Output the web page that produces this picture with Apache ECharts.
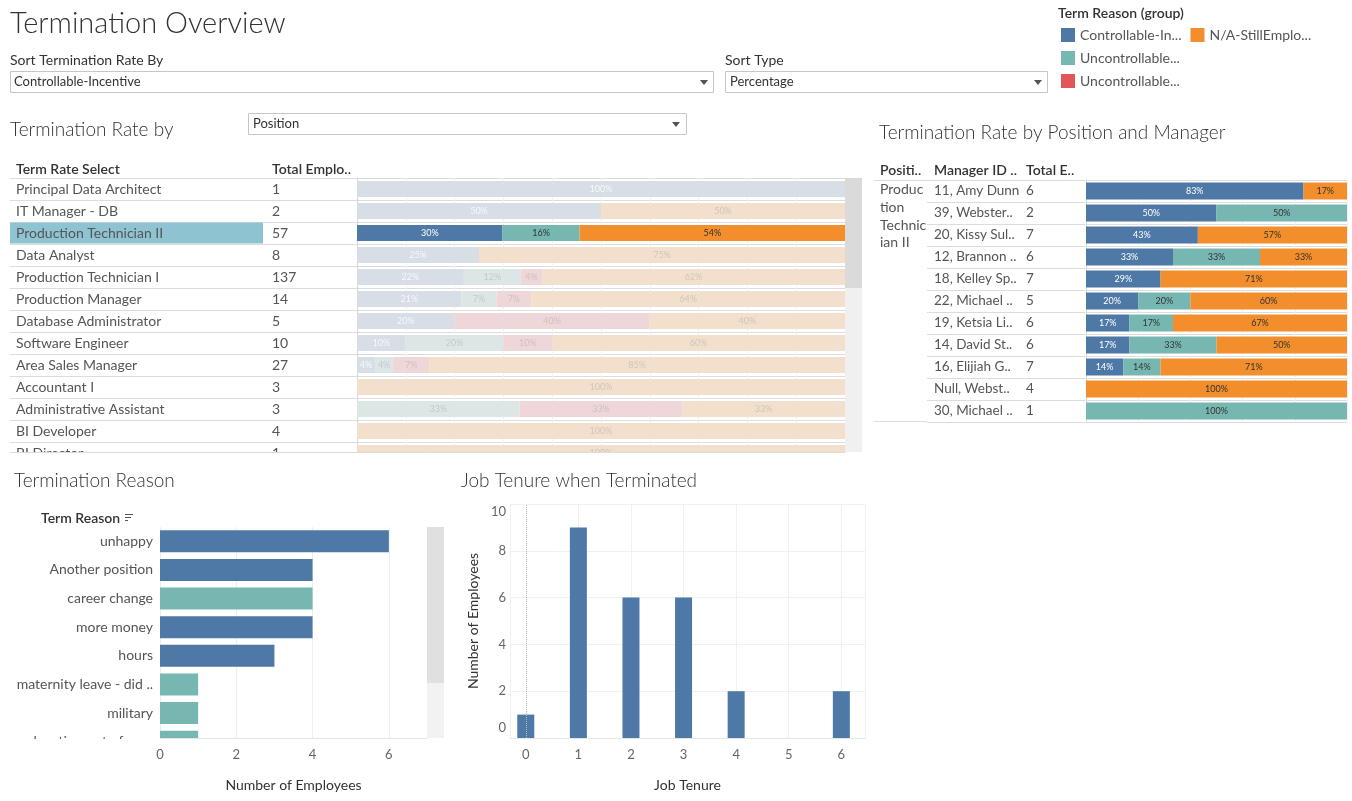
<!DOCTYPE html>
<html>
<head>
<meta charset="utf-8">
<title>Termination Overview</title>
<script src="https://cdn.jsdelivr.net/npm/echarts@6/dist/echarts.min.js"></script>
<style>
  html, body { margin: 0; padding: 0; background: #fff; }
  #main { width: 1352px; height: 801px; }
</style>
</head>
<body>
<div id="main"></div>
<script>
// term reason groups, in legend order (blue, teal, red, orange)
var groupNames = ['Controllable-Incentive', 'Uncontrollable-Personal', 'Uncontrollable-Other', 'N/A-StillEmployed'];
var groupShort = ['Controllable-In...', 'Uncontrollable...', 'Uncontrollable...', 'N/A-StillEmplo...'];
var groupColors = ['#4E79A7', '#76B7B2', '#E15759', '#F28E2B'];
var groupFaded = ['#d7dee6', '#dce7e5', '#efd6d8', '#f2dfcc'];

// employees by position, split by term reason group
var positions = ['Principal Data Architect', 'IT Manager - DB', 'Production Technician II', 'Data Analyst',
  'Production Technician I', 'Production Manager', 'Database Administrator', 'Software Engineer',
  'Area Sales Manager', 'Accountant I', 'Administrative Assistant', 'BI Developer', 'BI Director'];
var positionTotals = [1, 2, 57, 8, 137, 14, 5, 10, 27, 3, 3, 4, 1];
var posControllable = [1, 1, 17, 2, 30, 3, 1, 1, 1, 0, 0, 0, 0];
var posUncontrolA = [0, 0, 9, 0, 16, 1, 0, 2, 1, 0, 1, 0, 0];
var posUncontrolB = [0, 0, 0, 0, 6, 1, 2, 1, 2, 0, 1, 0, 0];
var posStillEmployed = [0, 1, 31, 6, 85, 9, 2, 6, 23, 3, 1, 4, 1];
var selectedPosition = 2;

// employees by manager for Production Technician II
var managers = ['11, Amy Dunn', '39, Webster..', '20, Kissy Sul..', '12, Brannon ..', '18, Kelley Sp..',
  '22, Michael ..', '19, Ketsia Li..', '14, David St..', '16, Elijiah G..', 'Null, Webst..', '30, Michael ..'];
var managerTotals = [6, 2, 7, 6, 7, 5, 6, 6, 7, 4, 1];
var mgrControllable = [5, 1, 3, 2, 2, 1, 1, 1, 1, 0, 0];
var mgrUncontrolA = [0, 1, 0, 2, 0, 1, 1, 2, 1, 0, 1];
var mgrUncontrolB = [0, 0, 0, 0, 0, 0, 0, 0, 0, 0, 0];
var mgrStillEmployed = [1, 0, 4, 2, 5, 3, 4, 3, 5, 4, 0];

// termination reason counts
var reasons = ['unhappy', 'Another position', 'career change', 'more money', 'hours',
  'maternity leave - did ..', 'military', 'relocation out of area'];
var reasonCounts = [6, 4, 4, 4, 3, 1, 1, 1];
var reasonGroup = [0, 0, 1, 0, 0, 1, 1, 1];

// job tenure when terminated
var tenureYears = [0, 1, 2, 3, 4, 5, 6];
var tenureCounts = [1, 9, 6, 6, 2, 0, 2];

var FONT = 'Lato, "Noto Sans", sans-serif';
var chart = echarts.init(document.getElementById('main'));

// stacked percentage bars for one reason group
function stackSeries(gi, counts, totals, xi, yi, stack, selIdx, barWidth) {
  var light = gi === 0; // white labels on the blue segments
  return {
    name: groupNames[gi], type: 'bar', stack: stack,
    xAxisIndex: xi, yAxisIndex: yi, barWidth: barWidth,
    itemStyle: { color: groupColors[gi] },
    emphasis: { disabled: true },
    label: {
      show: true, position: 'inside', fontSize: 9, fontFamily: FONT,
      formatter: function (p) { return p.value > 0 ? Math.round(p.value) + '%' : ''; }
    },
    data: counts.map(function (c, i) {
      var faded = selIdx !== null && i !== selIdx;
      return {
        value: c / totals[i] * 100,
        itemStyle: { color: faded ? groupFaded[gi] : groupColors[gi] },
        label: { color: faded ? (light ? 'rgba(255,255,255,0.8)' : 'rgba(150,150,150,0.35)') : (light ? '#fff' : '#333') }
      };
    })
  };
}

function txt(x, y, s, font, color, align) {
  return { type: 'text', x: x, y: y, silent: true, z: 60,
    style: { text: s, font: font, fill: color || '#333', align: align || 'left', verticalAlign: 'middle' } };
}
function box(x, y, w, h, fill, stroke) {
  return { type: 'rect', silent: true, z: 55, shape: { x: x, y: y, width: w, height: h },
    style: { fill: fill, stroke: stroke || null, lineWidth: 1 } };
}
function hline(x1, x2, y, color) {
  return { type: 'line', silent: true, z: 56, shape: { x1: x1, y1: y, x2: x2, y2: y },
    style: { stroke: color || '#ddd', lineWidth: 1 } };
}
function arrow(x, y) {
  return { type: 'polygon', silent: true, z: 60, shape: { points: [[x - 4, y - 2], [x + 4, y - 2], [x, y + 3]] },
    style: { fill: '#555' } };
}

var hidden = { show: false };

var option = {
  animation: false,
  textStyle: { fontFamily: FONT },
  legend: {
    orient: 'vertical', left: 1061, top: 28, height: 66, padding: 0, itemGap: 9,
    itemWidth: 14, itemHeight: 14, icon: 'rect', selectedMode: false,
    data: groupNames,
    formatter: function (n) { return groupShort[groupNames.indexOf(n)]; },
    textStyle: { fontSize: 14, color: '#555', fontFamily: FONT }
  },
  grid: [
    { left: 10, top: 178, width: 347, height: 286 },   // position table text
    { left: 357, top: 178, width: 488, height: 286 },  // position bars
    { left: 927, top: 180, width: 158, height: 242 },  // manager table text
    { left: 1086, top: 180, width: 261, height: 242 }, // manager bars
    { left: 160, top: 527, width: 267, height: 229 },  // reason bars
    { left: 160, top: 527, width: 267, height: 211 },  // reason axis
    { left: 510, top: 504, width: 355, height: 234 }   // job tenure
  ],
  xAxis: [
    { gridIndex: 0, type: 'value', min: 0, max: 1, show: false },
    { gridIndex: 1, type: 'value', min: 0, max: 100, interval: 10,
      axisLabel: hidden, axisLine: hidden, axisTick: hidden,
      splitLine: { lineStyle: { color: '#f1f1f1' } } },
    { gridIndex: 2, type: 'value', min: 0, max: 1, show: false },
    { gridIndex: 3, type: 'value', min: 0, max: 100, interval: 20,
      axisLabel: hidden, axisLine: hidden, axisTick: hidden,
      splitLine: { lineStyle: { color: '#f1f1f1' } } },
    { gridIndex: 4, type: 'value', min: 0, max: 7, interval: 2,
      axisLabel: hidden, axisLine: hidden, axisTick: hidden,
      splitLine: { lineStyle: { color: '#eeeeee' } } },
    { gridIndex: 5, type: 'value', min: 0, max: 7, interval: 2, z: 70,
      axisLine: { lineStyle: { color: '#e6e6e6' } }, axisTick: hidden, splitLine: hidden,
      axisLabel: { showMaxLabel: false, color: '#666', fontSize: 13, margin: 10 },
      name: 'Number of Employees', nameLocation: 'middle', nameGap: 40,
      nameTextStyle: { color: '#333', fontSize: 14 } },
    { gridIndex: 6, type: 'value', min: -0.3, max: 6.45, splitNumber: 7,
      axisLine: { lineStyle: { color: '#e6e6e6' } }, axisTick: hidden,
      axisLabel: { showMinLabel: false, showMaxLabel: false, color: '#666', fontSize: 13, margin: 10 },
      splitLine: { lineStyle: { color: '#f0f0f0' } },
      name: 'Job Tenure', nameLocation: 'middle', nameGap: 40,
      nameTextStyle: { color: '#333', fontSize: 14 } }
  ],
  yAxis: [
    { gridIndex: 0, type: 'category', inverse: true, data: positions,
      axisLine: hidden, axisTick: hidden,
      splitLine: { show: true, lineStyle: { color: '#dcdcdc' } },
      axisLabel: {
        inside: true, margin: 0, interval: 0,
        formatter: function (v, i) {
          return '{' + (i === selectedPosition ? 'hl' : 'n') + '|' + v + '}{c|' + positionTotals[i] + '}';
        },
        rich: {
          n: { width: 247, height: 21, lineHeight: 21, padding: [0, 0, 0, 6], color: '#555', fontSize: 14 },
          hl: { width: 247, height: 21, lineHeight: 21, padding: [0, 0, 0, 6], color: '#555', fontSize: 14, backgroundColor: '#8EC3D2' },
          c: { padding: [0, 0, 0, 9], color: '#555', fontSize: 14 }
        }
      } },
    { gridIndex: 1, type: 'category', inverse: true, data: positions,
      axisLabel: hidden, axisTick: hidden,
      axisLine: { lineStyle: { color: '#d6d6d6' } },
      splitLine: { show: true, lineStyle: { color: '#dcdcdc' } } },
    { gridIndex: 2, type: 'category', inverse: true, data: managers,
      axisLine: hidden, axisTick: hidden,
      splitLine: { show: true, lineStyle: { color: '#dcdcdc' } },
      axisLabel: {
        inside: true, margin: 0, interval: 0,
        formatter: function (v, i) { return '{n|' + v + '}{c|' + managerTotals[i] + '}'; },
        rich: {
          n: { width: 85, padding: [0, 0, 0, 7], color: '#555', fontSize: 13.5 },
          c: { padding: [0, 0, 0, 7], color: '#555', fontSize: 13.5 }
        }
      } },
    { gridIndex: 3, type: 'category', inverse: true, data: managers,
      axisLabel: hidden, axisTick: hidden,
      axisLine: { lineStyle: { color: '#d6d6d6' } },
      splitLine: { show: true, lineStyle: { color: '#dcdcdc' } } },
    { gridIndex: 4, type: 'category', inverse: true, data: reasons,
      axisLine: hidden, axisTick: hidden,
      axisLabel: { interval: 0, margin: 7, color: '#555', fontSize: 14 } },
    { gridIndex: 5, type: 'value', show: false },
    { gridIndex: 6, type: 'value', min: 0, max: 10, interval: 2,
      axisLine: hidden, axisTick: hidden,
      splitLine: { lineStyle: { color: '#f0f0f0' } },
      axisLabel: {
        color: '#666', fontSize: 13, margin: 4,
        formatter: function (v) {
          if (v === 0) return '{lo|0}';
          if (v === 10) return '{hi|10}';
          return v;
        },
        rich: {
          lo: { padding: [0, 0, 20, 0], color: '#666', fontSize: 13 },
          hi: { padding: [16, 0, 0, 0], color: '#666', fontSize: 13 }
        }
      },
      name: 'Number of Employees', nameLocation: 'middle', nameGap: 30, nameRotate: 90,
      nameTextStyle: { color: '#333', fontSize: 14 } }
  ],
  series: [
    stackSeries(0, posControllable, positionTotals, 1, 1, 'pos', selectedPosition, 16),
    stackSeries(1, posUncontrolA, positionTotals, 1, 1, 'pos', selectedPosition, 16),
    stackSeries(2, posUncontrolB, positionTotals, 1, 1, 'pos', selectedPosition, 16),
    stackSeries(3, posStillEmployed, positionTotals, 1, 1, 'pos', selectedPosition, 16),
    stackSeries(0, mgrControllable, managerTotals, 3, 3, 'mgr', null, 17),
    stackSeries(1, mgrUncontrolA, managerTotals, 3, 3, 'mgr', null, 17),
    stackSeries(2, mgrUncontrolB, managerTotals, 3, 3, 'mgr', null, 17),
    stackSeries(3, mgrStillEmployed, managerTotals, 3, 3, 'mgr', null, 17),
    {
      type: 'bar', xAxisIndex: 4, yAxisIndex: 4, barWidth: 22,
      emphasis: { disabled: true },
      data: reasonCounts.map(function (v, i) {
        return { value: v, itemStyle: { color: groupColors[reasonGroup[i]] } };
      })
    },
    {
      type: 'bar', xAxisIndex: 6, yAxisIndex: 6, barWidth: 17,
      itemStyle: { color: '#4E79A7' },
      emphasis: { disabled: true },
      data: tenureYears.map(function (t, i) { return [t, tenureCounts[i]]; }),
      markLine: {
        silent: true, symbol: ['none', 'none'], label: hidden,
        lineStyle: { type: 'dotted', color: '#bbbbbb', width: 1 },
        data: [{ xAxis: 0 }]
      }
    }
  ],
  graphic: [
    txt(10, 24, 'Termination Overview', '300 29px ' + FONT, '#333'),
    txt(10, 60, 'Sort Termination Rate By', '14px ' + FONT, '#333'),
    box(10.5, 71.5, 703, 21, '#fff', '#c6c6c6'),
    txt(14, 82, 'Controllable-Incentive', '13px ' + FONT, '#333'),
    arrow(704, 82),
    txt(725, 60, 'Sort Type', '14px ' + FONT, '#333'),
    box(725.5, 71.5, 322, 21, '#fff', '#c6c6c6'),
    txt(730, 82, 'Percentage', '13px ' + FONT, '#333'),
    arrow(1038, 82),
    txt(1058, 13, 'Term Reason (group)', '600 14px ' + FONT, '#333'),

    txt(10, 130, 'Termination Rate by', '300 19px ' + FONT, '#333'),
    box(248.5, 113.5, 438, 21, '#fff', '#c6c6c6'),
    txt(253, 124, 'Position', '13px ' + FONT, '#333'),
    arrow(676, 124),
    txt(16, 169, 'Term Rate Select', '600 14px ' + FONT, '#333'),
    txt(272, 169, 'Total Emplo..', '600 14px ' + FONT, '#333'),
    box(0, 453, 870, 16, '#fff'),
    hline(10, 845, 452.5, '#dcdcdc'),
    box(845, 178, 17, 110, '#dadada'),
    box(845, 288, 17, 164, '#f0f0f0'),

    txt(879, 133, 'Termination Rate by Position and Manager', '300 19px ' + FONT, '#333'),
    txt(880, 170, 'Positi..', '600 14px ' + FONT, '#333'),
    txt(934, 170, 'Manager ID ..', '600 14px ' + FONT, '#333'),
    txt(1026, 170, 'Total E..', '600 14px ' + FONT, '#333'),
    hline(874, 927, 180.5, '#dcdcdc'),
    hline(874, 927, 421.5, '#dcdcdc'),
    { type: 'text', x: 880, y: 181, silent: true, z: 60,
      style: { text: 'Produc\ntion\nTechnic\nian II', font: '14px ' + FONT, fill: '#555', lineHeight: 17.7 } },

    txt(14, 481, 'Termination Reason', '300 19px ' + FONT, '#333'),
    txt(41, 518, 'Term Reason', '600 14px ' + FONT, '#333'),
    hline(125, 133, 514.5, '#555'),
    hline(125, 131, 517.5, '#555'),
    hline(125, 128, 520.5, '#555'),
    box(0, 739, 446, 19, '#fff'),
    box(427, 527, 17, 156, '#e0e0e0'),
    box(427, 683, 17, 55, '#f2f2f2'),

    txt(461, 481, 'Job Tenure when Terminated', '300 19px ' + FONT, '#333')
  ]
};

chart.setOption(option);
</script>
</body>
</html>
